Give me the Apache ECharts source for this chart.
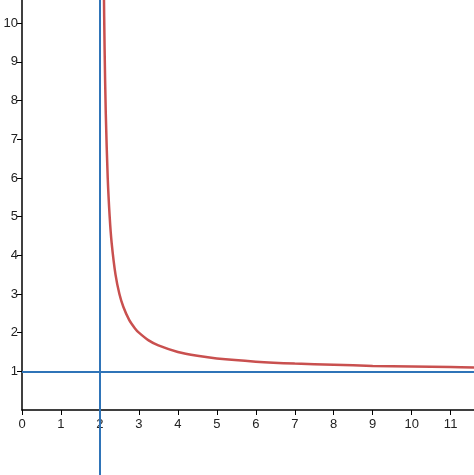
<!DOCTYPE html><html><head><meta charset="utf-8">
<script src="https://cdn.jsdelivr.net/npm/echarts@6/dist/echarts.min.js"></script>
<style>html,body{margin:0;padding:0;background:#fff}#c{width:474px;height:475px}</style></head>
<body><div id="c"></div><script>
const curveX=[2.08,2.1,2.12,2.15,2.2,2.25,2.3,2.4,2.5,2.6,2.75,2.9,3,3.25,3.5,4,4.5,5,6,7,8,9,10,11,11.6];
const curveY=[13.5,11,9.33,7.67,6,5,4.33,3.5,3,2.67,2.33,2.11,2,1.8,1.67,1.5,1.4,1.33,1.25,1.2,1.17,1.14,1.125,1.11,1.1];
const xTicks=[0,1,2,3,4,5,6,7,8,9,10,11];
const yTicks=[1,2,3,4,5,6,7,8,9,10];
const vLine=2, hLine=1;
const chart=echarts.init(document.getElementById('c'));
const ml={symbol:'none',silent:true,label:{show:false},lineStyle:{color:'#2f74b8',width:2,type:'solid'}};
chart.setOption({
 animation:false,
 grid:[{left:22,right:0,top:0,bottom:65},{left:22,right:0,top:410,bottom:0}],
 xAxis:[{type:'value',min:0,max:11.6,splitLine:{show:false},
  axisLine:{lineStyle:{color:'#000',width:1.5}},
  axisTick:{customValues:xTicks,length:5,lineStyle:{color:'#000'}},
  axisLabel:{customValues:xTicks,color:'#222',fontSize:13,margin:8,fontFamily:'Liberation Sans'}},
  {gridIndex:1,type:'value',min:0,max:11.6,show:false}],
 yAxis:[{type:'value',min:0,max:10.6,splitLine:{show:false},
  axisLine:{lineStyle:{color:'#000',width:1.5}},
  axisTick:{customValues:yTicks,length:5,lineStyle:{color:'#000'}},
  axisLabel:{customValues:yTicks,color:'#222',fontSize:13,margin:4,fontFamily:'Liberation Sans'}},
  {gridIndex:1,type:'value',min:0,max:1,show:false}],
 series:[{type:'line',data:curveX.map((x,i)=>[x,curveY[i]]),smooth:0.3,symbol:'none',clip:true,
  lineStyle:{color:'#c9504f',width:2.5},
  markLine:Object.assign({data:[{xAxis:vLine},{yAxis:hLine}]},ml)},
  {type:'line',xAxisIndex:1,yAxisIndex:1,data:[],markLine:Object.assign({data:[{xAxis:vLine}]},ml)}]
});
</script></body></html>
